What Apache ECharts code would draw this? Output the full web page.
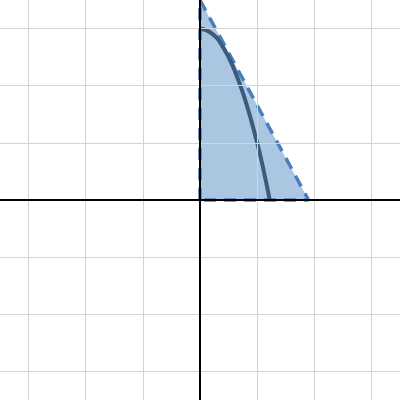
<!DOCTYPE html>
<html><head><meta charset="utf-8">
<script src="https://cdn.jsdelivr.net/npm/echarts@6/dist/echarts.min.js"></script>
<style>html,body{margin:0;padding:0;background:#fff}#chart{width:400px;height:400px}</style>
</head><body><div id="chart"></div>
<script>
// grid positions and shapes
var gridTicks = [-3, -2, -1, 1, 2, 3];
var triangle = [[0, 0], [0, 3.5], [1.9, 0], [0, 0]];
var curveX = [0, 0.2, 0.4, 0.6, 0.8, 1.0, 1.1, 1.22];
var curveY = [3.0, 2.92, 2.68, 2.28, 1.72, 1.0, 0.58, 0.0];

var chart = echarts.init(document.getElementById('chart'));
var gridLines = [];
gridTicks.forEach(function (t) {
    gridLines.push({ xAxis: t });
    gridLines.push({ yAxis: t });
});

chart.setOption({
    animation: false,
    grid: { left: 0, right: 0, top: 0, bottom: 0 },
    xAxis: { type: 'value', min: -3.5, max: 3.5, show: false },
    yAxis: { type: 'value', min: -3.5, max: 3.5, show: false },
    series: [
        {
            type: 'line', data: [], silent: true,
            markLine: {
                symbol: 'none', label: { show: false },
                lineStyle: { color: '#d4d4d4', width: 1, type: 'solid' },
                data: gridLines
            }
        },
        {
            type: 'line', data: [], silent: true,
            markLine: {
                symbol: 'none', label: { show: false },
                lineStyle: { color: '#000', width: 2, type: 'solid' },
                data: [{ xAxis: 0 }, { yAxis: 0 }]
            }
        },
        {
            type: 'custom',
            renderItem: function (params, api) {
                var pts = triangle.map(function (p) { return api.coord(p); });
                return { type: 'polygon', shape: { points: pts },
                    style: { fill: 'rgba(45,112,179,0.4)' } };
            },
            data: [0]
        },
        {
            type: 'line', data: triangle, symbol: 'none',
            lineStyle: { color: '#4a7fbd', width: 3.5, type: [12, 8] }
        },
        {
            type: 'line', symbol: 'none', smooth: true,
            data: curveX.map(function (x, i) { return [x, curveY[i]]; }),
            lineStyle: { color: '#3b5a7c', width: 4 }
        }
    ]
});
</script></body></html>
